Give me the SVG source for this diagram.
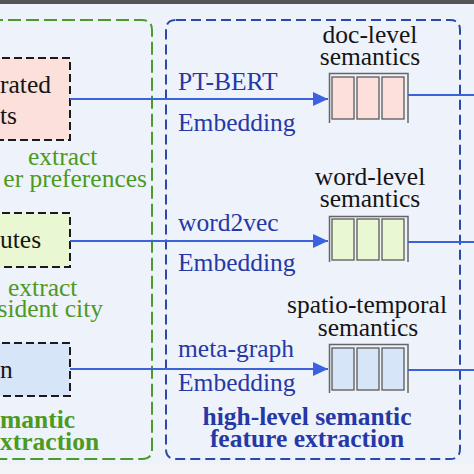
<svg xmlns="http://www.w3.org/2000/svg" width="474" height="474" viewBox="0 0 474 474" font-family="Liberation Serif, Times New Roman, serif" font-size="25.5">
<style>
.blk{fill:#151515}
.bl{fill:#2638a6}
.gr{fill:#4b9a22}
.b{font-weight:bold}
.mid{text-anchor:middle}
.end{text-anchor:end}
.node{stroke:#1a1a1a;stroke-width:2;stroke-dasharray:8 4}
.cell{stroke:#5a5a5a;stroke-width:1.3}
.frame{fill:none;stroke:#666;stroke-width:1.5}
.conn{stroke:#3b62d6;stroke-width:1.8;fill:none}
</style>
<defs>
<marker id="ah" markerWidth="15" markerHeight="14" refX="15" refY="7" orient="auto" markerUnits="userSpaceOnUse">
<path d="M0,0 L15,7 L0,14 Z" fill="#3b62e0"/>
</marker>
</defs>
<rect width="474" height="474" fill="#eef2fa"/>
<rect width="474" height="4" fill="#555"/>
<rect y="465" width="474" height="9" fill="#f3f4f8"/>

<g id="group-low">
<path d="M-10,20 H142 Q152,20 152,30 V449 Q152,459 142,459 H-10" fill="none" stroke="#4b9a2a" stroke-width="2" stroke-dasharray="13 5"/>
<text class="gr" x="28" y="165">extract</text>
<text class="gr end" x="147" y="187">er preferences</text>
<text class="gr" x="8" y="296">extract</text>
<text class="gr end" x="103" y="317">sident city</text>
<text class="gr b" x="0" y="428">mantic</text>
<text class="gr b" x="0" y="450">xtraction</text>
</g>

<g id="group-high">
<path d="M176,20 H450 Q460,20 460,30 V449 Q460,459 450,459 H176 Q166,459 166,449 V30 Q166,20 176,20 Z" fill="none" stroke="#2b4aa8" stroke-width="2" stroke-dasharray="10 5"/>
<text class="bl b mid" x="307" y="425">high-level semantic</text>
<text class="bl b mid" x="307" y="447">feature extraction</text>
</g>

<g id="node-rated">
<rect class="node" x="-10" y="58" width="80" height="82" fill="#fbe0dc"/>
<text class="blk" x="0" y="93">rated</text>
<text class="blk" x="0" y="124">ts</text>
</g>
<g id="node-attributes">
<rect class="node" x="-10" y="213" width="80" height="54" fill="#e9f8d2"/>
<text class="blk" x="0" y="248">utes</text>
</g>
<g id="node-n">
<rect class="node" x="-10" y="343" width="80" height="53" fill="#d6e5f8"/>
<text class="blk" x="0" y="378">n</text>
</g>

<g id="node-doc">
<text class="blk mid" x="370" y="43">doc-level</text>
<text class="blk mid" x="370" y="65">semantics</text>
<path class="frame" d="M329.5,123 V73.5 H408 V123"/>
<rect class="cell" x="332" y="77" width="22" height="42" fill="#fde0dc"/>
<rect class="cell" x="357" y="77" width="22" height="42" fill="#fde0dc"/>
<rect class="cell" x="382" y="77" width="22" height="42" fill="#fde0dc"/>
</g>
<g id="node-word">
<text class="blk mid" x="370" y="185">word-level</text>
<text class="blk mid" x="370" y="207">semantics</text>
<path class="frame" d="M329.5,262 V216.5 H408 V262"/>
<rect class="cell" x="332" y="219" width="22" height="41" fill="#e9f8d2"/>
<rect class="cell" x="357" y="219" width="22" height="41" fill="#e9f8d2"/>
<rect class="cell" x="382" y="219" width="22" height="41" fill="#e9f8d2"/>
</g>
<g id="node-spatio">
<text class="blk mid" x="367" y="313">spatio-temporal</text>
<text class="blk mid" x="368" y="336">semantics</text>
<path class="frame" d="M329.5,393 V344.5 H408 V393"/>
<rect class="cell" x="332" y="348" width="22" height="42" fill="#d6e5f8"/>
<rect class="cell" x="357" y="348" width="22" height="42" fill="#d6e5f8"/>
<rect class="cell" x="382" y="348" width="22" height="42" fill="#d6e5f8"/>
</g>

<g id="connectors">
<path class="conn" d="M70,99 H328" marker-end="url(#ah)"/>
<path class="conn" d="M70,241 H328" marker-end="url(#ah)"/>
<path class="conn" d="M70,369 H328" marker-end="url(#ah)"/>
<path class="conn" d="M408,95 H474"/>
<path class="conn" d="M408,242 H474"/>
<path class="conn" d="M408,370 H474"/>
<text class="bl" x="178" y="90">PT-BERT</text>
<text class="bl" x="178" y="131">Embedding</text>
<text class="bl" x="178" y="231">word2vec</text>
<text class="bl" x="178" y="271">Embedding</text>
<text class="bl" x="178" y="357">meta-graph</text>
<text class="bl" x="178" y="391">Embedding</text>
</g>
</svg>
